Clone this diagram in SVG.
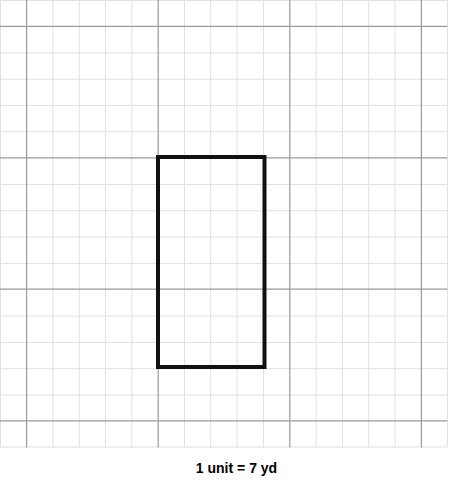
<svg xmlns="http://www.w3.org/2000/svg" width="450" height="484" viewBox="0 0 450 484">
  <style>
    .minor { stroke: #e0e0e0; stroke-width: 1; fill: none; }
    .major { stroke: #9a9a9a; stroke-width: 1.2; fill: none; }
    .shape { stroke: #111111; stroke-width: 4; fill: none; }
    .label { font-family: "Liberation Sans", Arial, sans-serif; font-size: 14px; font-weight: bold; fill: #000000; }
  </style>
  <rect x="0" y="0" width="450" height="484" fill="#ffffff"/>
  <g id="grid-minor" class="minor">
    <path d="M0.5 0V447.4 M52.9 0V447.4 M79.2 0V447.4 M105.5 0V447.4 M131.8 0V447.4 M184.5 0V447.4 M210.8 0V447.4 M237.1 0V447.4 M263.4 0V447.4 M316.1 0V447.4 M342.4 0V447.4 M368.7 0V447.4 M395.0 0V447.4 M447.4 0V447.4"/>
    <path d="M0 0.5H447.4 M0 52.9H447.4 M0 79.2H447.4 M0 105.5H447.4 M0 131.8H447.4 M0 184.5H447.4 M0 210.8H447.4 M0 237.1H447.4 M0 263.4H447.4 M0 316.1H447.4 M0 342.4H447.4 M0 368.7H447.4 M0 395.0H447.4 M0 447.0H447.4"/>
  </g>
  <g id="grid-major" class="major">
    <path d="M26.6 0V447.4 M158.2 0V447.4 M289.8 0V447.4 M421.4 0V447.4"/>
    <path d="M0 26.4H447.4 M0 157.8H447.4 M0 289.2H447.4 M0 420.8H447.4"/>
  </g>
  <g id="rectangle">
    <rect class="shape" x="158" y="157" width="106.5" height="210"/>
  </g>
  <g id="scale-label">
    <text class="label" x="236.5" y="472.5" text-anchor="middle">1 unit = 7 yd</text>
  </g>
</svg>
